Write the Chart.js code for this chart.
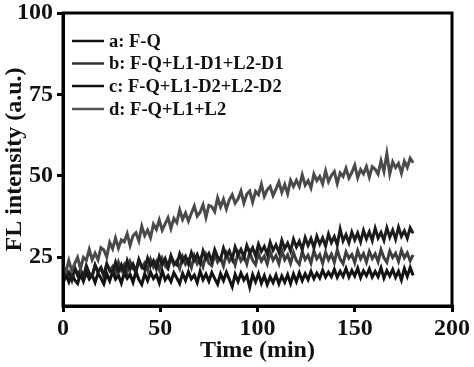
<!DOCTYPE html>
<html>
<head>
<meta charset="utf-8">
<script src="https://cdn.jsdelivr.net/npm/chart.js@4.4.1/dist/chart.umd.min.js"></script>
<style>
  html, body { margin: 0; padding: 0; background: #fff; }
  #wrap { width: 474px; height: 367px; position: relative; }
</style>
</head>
<body>
<div id="wrap"><canvas id="c" width="474" height="367"></canvas></div>
<script>
const seriesNames = ["a: F-Q", "b: F-Q+L1-D1+L2-D1", "c: F-Q+L1-D2+L2-D2", "d: F-Q+L1+L2"];
const xTickValues = [0, 50, 100, 150, 200];
const yTickValues = [25, 50, 75, 100];

const timeMin = [0,1.5,3,4.5,6,7.5,9,10.5,12,13.5,15,16.5,18,19.5,21,22.5,24,25.5,27,28.5,
  30,31.5,33,34.5,36,37.5,39,40.5,42,43.5,45,46.5,48,49.5,51,52.5,54,55.5,57,58.5,
  60,61.5,63,64.5,66,67.5,69,70.5,72,73.5,75,76.5,78,79.5,81,82.5,84,85.5,87,88.5,
  90,91.5,93,94.5,96,97.5,99,100.5,102,103.5,105,106.5,108,109.5,111,112.5,114,115.5,117,118.5,
  120,121.5,123,124.5,126,127.5,129,130.5,132,133.5,135,136.5,138,139.5,141,142.5,144,145.5,147,148.5,
  150,151.5,153,154.5,156,157.5,159,160.5,162,163.5,165,166.5,168,169.5,171,172.5,174,175.5,177,178.5,
  180];

const seriesA = [16.8,19.6,17.4,20.2,18.0,16.9,19.8,17.6,20.4,18.3,
  19.5,17.2,20.1,18.6,16.8,19.9,17.7,20.5,18.2,19.4,
  17.0,20.3,18.5,19.7,17.3,20.6,18.1,16.6,19.9,17.8,
  20.4,18.4,19.6,17.1,20.8,18.0,19.3,17.5,20.2,18.6,
  16.9,20.0,17.9,20.5,18.3,19.5,17.2,20.7,18.1,19.8,
  17.6,20.3,18.4,16.7,19.9,17.8,20.4,18.2,15.9,19.7,
  17.5,20.1,18.0,19.4,15.8,19.6,17.4,19.9,17.0,19.3,
  16.6,19.0,17.2,19.5,16.8,19.2,17.3,19.6,16.9,19.8,
  17.5,20.2,17.8,19.9,18.1,20.6,18.4,20.1,18.6,21.0,
  18.9,20.4,19.0,21.3,18.8,20.7,19.1,21.5,18.9,20.9,
  19.2,21.6,18.7,20.8,19.3,21.4,18.9,20.6,19.0,21.7,
  18.6,20.9,19.2,21.2,18.8,20.7,18.0,21.5,19.1,21.8,
  19.4];

const seriesB = [21.3,19.0,20.4,18.6,21.9,19.7,21.2,19.1,22.4,20.0,
  19.3,22.6,20.5,21.8,19.4,23.0,20.8,22.1,19.9,23.5,
  21.0,22.7,20.3,23.6,21.5,20.6,24.0,21.9,23.2,20.9,
  24.3,22.0,23.7,21.2,24.6,22.3,21.4,24.9,22.6,23.9,
  21.5,25.1,22.8,24.2,21.8,25.4,23.0,24.6,22.1,25.7,
  23.2,22.4,25.9,23.5,24.8,22.3,26.1,23.7,25.2,22.6,
  26.3,23.9,25.4,22.9,26.5,24.0,22.7,26.2,23.8,25.3,
  22.9,26.6,24.1,25.5,23.0,27.1,24.2,25.7,23.1,26.4,
  24.0,22.8,26.7,24.3,25.6,23.2,26.9,24.5,25.8,23.1,
  26.5,24.2,25.9,23.4,27.2,24.4,23.0,26.6,24.7,25.8,
  23.3,27.0,24.5,26.1,23.5,26.8,24.6,26.0,23.6,27.3,
  24.8,23.4,26.9,24.9,26.2,23.7,27.1,24.8,26.3,23.9,
  25.7];

const seriesC = [18.4,21.0,19.9,17.9,21.6,19.4,20.9,18.6,22.1,20.0,
  19.1,22.5,20.4,21.7,19.3,22.8,21.0,20.2,23.4,20.5,
  22.6,20.1,23.9,21.3,22.9,20.6,24.3,22.0,21.2,24.7,
  22.4,23.9,21.5,25.2,22.8,24.6,22.1,25.5,23.3,22.6,
  26.0,23.7,25.3,22.9,26.4,24.1,25.8,23.2,26.9,24.5,
  26.1,23.8,27.3,25.0,24.2,27.8,25.3,26.9,24.4,28.1,
  25.7,27.4,25.0,28.6,26.2,27.9,25.4,29.0,26.8,28.3,
  25.9,29.6,27.1,28.8,26.5,30.2,27.6,29.3,26.9,30.5,
  28.1,29.9,27.3,31.0,28.6,30.7,27.9,31.4,29.0,30.9,
  28.4,32.1,29.5,31.3,28.8,33.6,30.0,31.9,29.4,32.7,
  30.3,32.4,29.7,33.2,30.6,32.8,30.1,33.9,30.9,32.6,
  30.2,34.0,31.1,33.3,30.5,34.2,31.4,33.1,30.8,34.0,
  32.3];

const seriesD = [22.2,20.6,24.0,20.8,23.0,24.9,21.4,24.9,24.0,27.4,
  24.2,26.2,24.2,27.9,27.2,25.0,29.5,27.6,30.9,27.8,
  30.3,29.7,32.2,28.6,31.6,32.5,30.0,34.5,31.6,33.3,
  31.0,35.1,33.5,36.4,33.3,35.2,37.1,33.8,36.9,35.6,
  39.5,36.6,38.6,36.1,38.5,40.7,37.6,38.8,41.1,37.2,
  40.9,40.5,39.0,43.2,40.4,42.8,39.8,42.6,44.2,41.6,
  42.9,45.3,41.6,44.3,45.3,41.9,45.2,44.2,47.4,43.7,
  45.7,46.7,43.9,45.9,48.1,44.9,47.3,44.5,48.6,46.7,
  48.6,46.7,50.3,47.1,48.5,46.3,50.5,48.5,49.8,47.5,
  51.5,48.2,50.1,51.3,47.6,50.9,49.8,52.3,49.3,51.0,
  53.3,49.4,51.9,50.6,52.8,49.6,52.8,52.0,50.5,54.6,
  51.3,56.8,50.6,54.3,52.5,53.8,50.8,54.5,52.6,55.4,
  54.0];

const allSeries = [seriesA, seriesB, seriesC, seriesD];
const lineColors = ["#121212", "#3e3e3e", "#1c1c1c", "#4a4a4a"];
const legendColors = ["#111111", "#333333", "#111111", "#555555"];
const drawOrder = [2, 3, 1, 0];

const FONT = '"Liberation Serif", "Times New Roman", serif';

const datasets = allSeries.map((vals, i) => ({
  label: seriesNames[i],
  data: vals.map((v, j) => ({ x: timeMin[j], y: v })),
  borderColor: lineColors[i],
  backgroundColor: lineColors[i],
  borderWidth: 3,
  pointRadius: 0,
  tension: 0,
  fill: false,
  order: drawOrder[i]
}));

const framePlugin = {
  id: 'frame',
  afterDatasetsDraw(chart) {
    const { ctx, chartArea: a } = chart;
    ctx.save();
    ctx.strokeStyle = '#000';
    ctx.lineWidth = 3;
    ctx.strokeRect(a.left, a.top, a.right - a.left, a.bottom - a.top);
    ctx.restore();
  },
  afterDraw(chart) {
    const { ctx, chartArea: a } = chart;
    ctx.save();
    ctx.font = 'bold 18.5px ' + FONT;
    ctx.textBaseline = 'middle';
    ctx.textAlign = 'left';
    const rowOffsets = [28, 50.5, 73, 96];
    seriesNames.forEach((name, i) => {
      const y = a.top + rowOffsets[i];
      ctx.strokeStyle = legendColors[i];
      ctx.lineWidth = 2.5;
      ctx.beginPath();
      ctx.moveTo(a.left + 9, y);
      ctx.lineTo(a.left + 41, y);
      ctx.stroke();
      ctx.fillStyle = '#111';
      ctx.fillText(name, a.left + 46, y + 1);
    });
    ctx.restore();
  }
};

new Chart(document.getElementById('c'), {
  type: 'line',
  data: { datasets },
  plugins: [framePlugin],
  options: {
    responsive: false,
    animation: false,
    events: [],
    layout: { padding: { top: 13, right: 22, left: 0, bottom: 0 } },
    plugins: { legend: { display: false }, tooltip: { enabled: false } },
    scales: {
      x: {
        type: 'linear',
        min: 0, max: 200,
        afterBuildTicks(s) { s.ticks = xTickValues.map(v => ({ value: v })); },
        afterFit(s) { s.height = 61; s.paddingLeft = 0; s.paddingRight = 0; },
        grid: { drawOnChartArea: false, drawTicks: true, tickLength: 6, color: '#000', lineWidth: 3 },
        border: { display: true, color: '#000', width: 3 },
        ticks: { color: '#111', font: { family: FONT, size: 24, weight: 'bold' }, padding: 2, maxRotation: 0 },
        title: { display: true, text: 'Time (min)', color: '#111', font: { family: FONT, size: 24, weight: 'bold' }, padding: { top: 0, bottom: 2 } }
      },
      y: {
        type: 'linear',
        min: 10, max: 100,
        afterBuildTicks(s) { s.ticks = yTickValues.map(v => ({ value: v })); },
        afterFit(s) { s.width = 63; s.paddingTop = 0; s.paddingBottom = 0; },
        grid: { drawOnChartArea: false, drawTicks: true, tickLength: 6, color: '#000', lineWidth: 3 },
        border: { display: true, color: '#000', width: 3 },
        ticks: { color: '#111', font: { family: FONT, size: 24, weight: 'bold' }, padding: 4 },
        title: { display: true, text: 'FL intensity (a.u.)', color: '#111', font: { family: FONT, size: 24, weight: 'bold' }, padding: { top: 0, bottom: 0 } }
      }
    }
  }
});
</script>
</body>
</html>
